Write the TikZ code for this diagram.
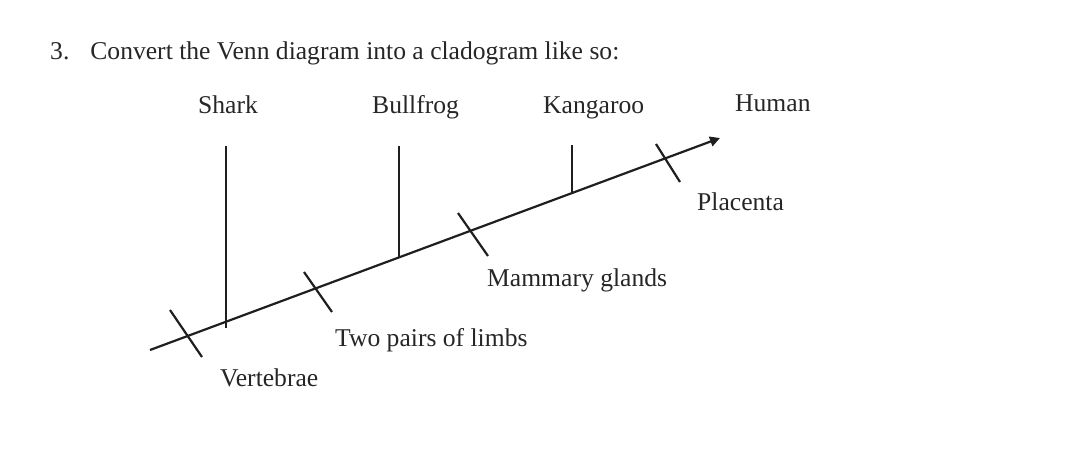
\documentclass[tikz,border=0pt]{standalone}
\usepackage{fontspec}
\setmainfont{Liberation Serif}
\usetikzlibrary{arrows.meta}
\begin{document}
\begin{tikzpicture}[x=1pt,y=-1pt,
  lbl/.style={anchor=base west,inner sep=0pt,font=\fontsize{25.6}{30}\selectfont,text=black!85},
  ln/.style={line width=2.2pt,draw=black!88}]
\useasboundingbox (0,0) rectangle (1080,448);
\node[lbl] (title) at (50,59) {3.\hspace{21pt}Convert the Venn diagram into a cladogram like so:};
\node[lbl] (shark) at (198,113) {Shark};
\node[lbl] (frog) at (372,113) {Bullfrog};
\node[lbl] (kang) at (543,113) {Kangaroo};
\node[lbl] (human) at (735,111) {Human};
\node[lbl] (plac) at (697,210) {Placenta};
\node[lbl] (mamm) at (487,286) {Mammary glands};
\node[lbl] (limbs) at (335,346) {Two pairs of limbs};
\node[lbl] (vert) at (220,386) {Vertebrae};
% main line
\coordinate (s) at (150,350);
\coordinate (e) at (720,138);
\draw[ln,-{Triangle[length=10pt,width=10pt]}] (s) -- (e);
% branches
\coordinate (sharkT) at (226,146); \coordinate (sharkB) at (226,328);
\coordinate (frogT) at (399,146);  \coordinate (frogB) at (399,257);
\coordinate (kangT) at (572,145);  \coordinate (kangB) at (572,193);
\draw[ln] (sharkT) -- (sharkB);
\draw[ln] (frogT) -- (frogB);
\draw[ln] (kangT) -- (kangB);
% ticks
\coordinate (t1a) at (170,310); \coordinate (t1b) at (202,357);
\coordinate (t2a) at (304,272); \coordinate (t2b) at (332,312);
\coordinate (t3a) at (458,213); \coordinate (t3b) at (488,256);
\coordinate (t4a) at (656,144); \coordinate (t4b) at (680,182);
\draw[ln] (t1a) -- (t1b);
\draw[ln] (t2a) -- (t2b);
\draw[ln] (t3a) -- (t3b);
\draw[ln] (t4a) -- (t4b);
\end{tikzpicture}
\end{document}
